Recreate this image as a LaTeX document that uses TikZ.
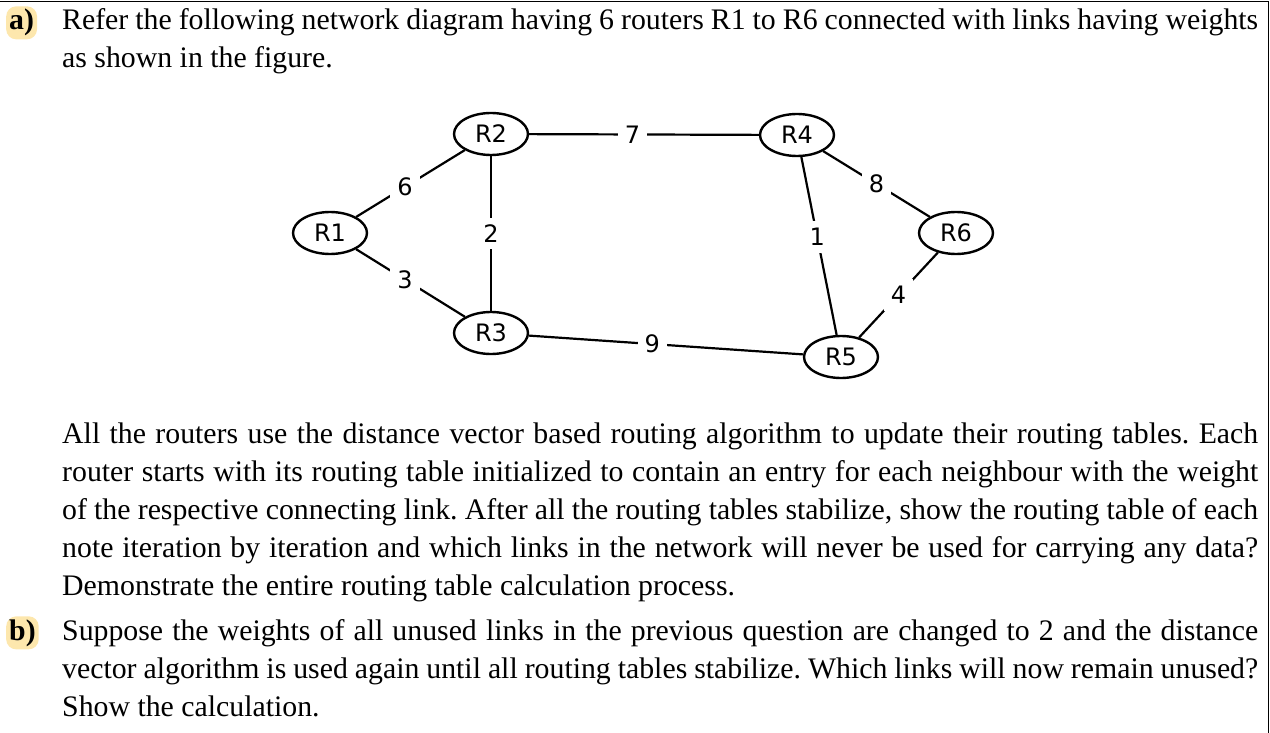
\documentclass[tikz,border=0pt]{standalone}
\usepackage{fontspec}
\usetikzlibrary{shapes.geometric}
\setmainfont{Liberation Serif}
\newfontfamily\diagfont{DejaVu Sans}
\frenchspacing
\begin{document}
\begin{tikzpicture}[x=1pt,y=-1pt,
  rt/.style={draw,line width=2.4pt,ellipse,minimum width=74pt,minimum height=42pt,inner sep=0pt,font=\diagfont\fontsize{24}{24}\selectfont},
  wl/.style={font=\diagfont\fontsize{24}{24}\selectfont,fill=white,inner sep=7pt},
  ln/.style={line width=2.2pt},
  tl/.style={anchor=base west,inner sep=0pt,font=\fontsize{29.8}{38}\selectfont},
  lab/.style={anchor=base west,inner xsep=3pt,inner ysep=3pt,font=\bfseries\fontsize{29.8}{38}\selectfont,fill=yellow!45!orange!30,rounded corners=10pt}]
\useasboundingbox (0,0) rectangle (1270,733);
\draw[line width=1pt] (0,2) -- (1268,2) -- (1268,733);
\node[lab] (la) at (6,30) {a)};
\node[tl] (t1) at (62,30) {\makebox[1196pt][s]{Refer the following network diagram having 6 routers R1 to R6 connected with links having weights}};
\node[tl] (t2) at (62,68) {as shown in the figure.};
\node[rt] (R1) at (330,233) {R1};
\node[rt] (R2) at (491,134) {R2};
\node[rt] (R4) at (797,135) {R4};
\node[rt] (R6) at (956,233) {R6};
\node[rt] (R3) at (491,333) {R3};
\node[rt] (R5) at (841,357) {R5};
\draw[ln] (R1) -- node[wl,pos=0.45] {6} (R2);
\draw[ln] (R1) -- node[wl,pos=0.45] {3} (R3);
\draw[ln] (R2) -- node[wl] {2} (R3);
\draw[ln] (R2) -- node[wl,pos=0.45] {7} (R4);
\draw[ln] (R4) -- node[wl,pos=0.5] {8} (R6);
\draw[ln] (R4) -- node[wl,pos=0.45] {1} (R5);
\draw[ln] (R6) -- node[wl,pos=0.5] {4} (R5);
\draw[ln] (R3) -- node[wl,pos=0.45] {9} (R5);
\node[tl] (p1) at (62,443) {\makebox[1196pt][s]{All the routers use the distance vector based routing algorithm to update their routing tables. Each}};
\node[tl] (p2) at (62,481) {\makebox[1196pt][s]{router starts with its routing table initialized to contain an entry for each neighbour with the weight}};
\node[tl] (p3) at (62,519) {\makebox[1196pt][s]{of the respective connecting link. After all the routing tables stabilize, show the routing table of each}};
\node[tl] (p4) at (62,557) {\makebox[1196pt][s]{note iteration by iteration and which links in the network will never be used for carrying any data?}};
\node[tl] (p5) at (62,595) {Demonstrate the entire routing table calculation process.};
\node[lab] (lb) at (6,640) {b)};
\node[tl] (b1) at (62,640) {\makebox[1196pt][s]{Suppose the weights of all unused links in the previous question are changed to 2 and the distance}};
\node[tl] (b2) at (62,678) {\makebox[1196pt][s]{vector algorithm is used again until all routing tables stabilize. Which links will now remain unused?}};
\node[tl] (b3) at (62,716) {Show the calculation.};
\end{tikzpicture}
\end{document}
